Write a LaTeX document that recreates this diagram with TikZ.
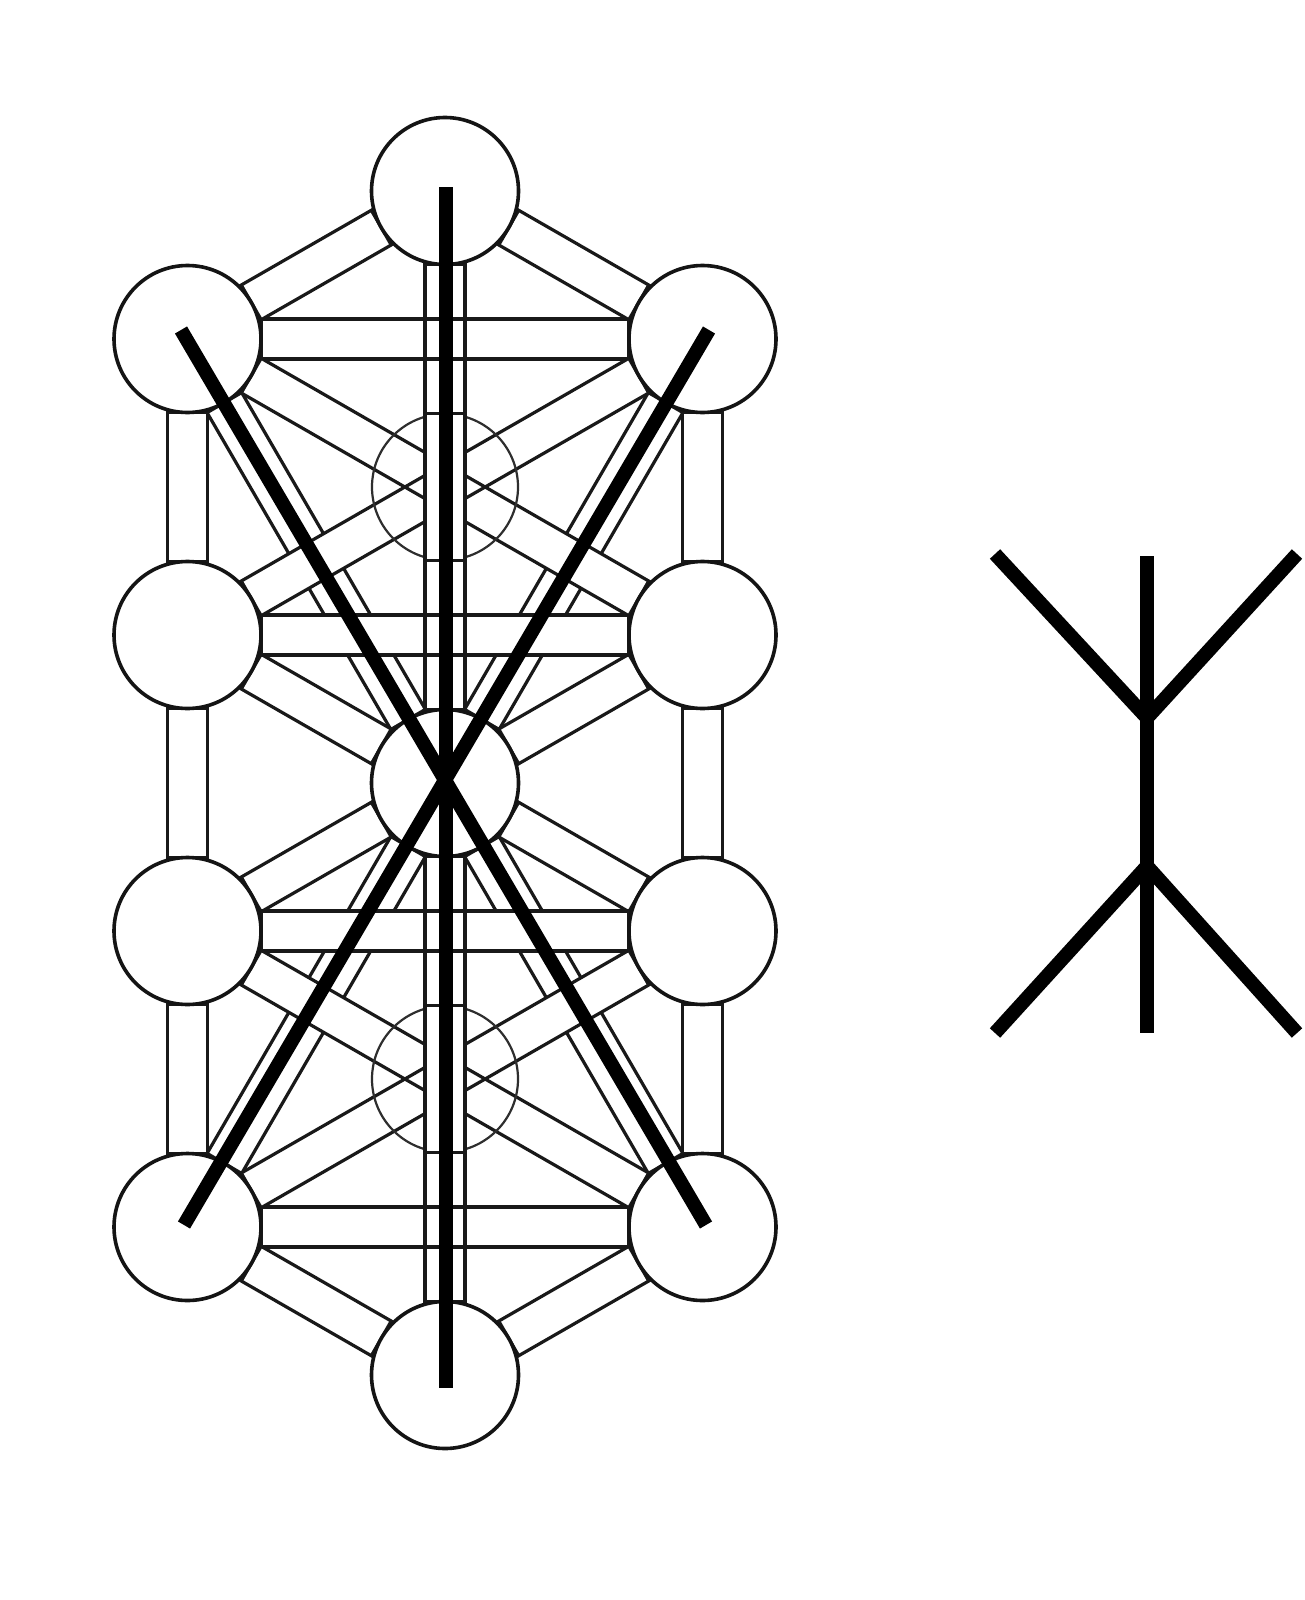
\documentclass[tikz,border=0pt]{standalone}
\usetikzlibrary{calc}
\pgfdeclarelayer{back}
\pgfdeclarelayer{front}
\pgfdeclarelayer{top}
\pgfsetlayers{back,main,front,top}
\newcommand\chR{73.5pt}
\newcommand\chW{20pt}
\newcommand\chan[3]{%
  \path ($(#1.center)!\chR!(#2.center)$) coordinate (cp) ($(#2.center)!\chR!(#1.center)$) coordinate (cq);
  \path[#3] ($(cp)!\chW!90:(#2.center)$) -- ($(cq)!\chW!-90:(#1.center)$) -- ($(cq)!\chW!90:(#1.center)$) -- ($(cp)!\chW!-90:(#2.center)$) -- cycle;}
\begin{document}
\begin{tikzpicture}[x=1pt,y=-1pt,
  sphere/.style={circle, draw=black!92, line width=3.6pt, fill=white, minimum size=147pt, inner sep=0pt},
  hiddensphere/.style={circle, inner sep=0pt, minimum size=146pt},
  chanline/.style={draw=black!90, line width=3.2pt, line join=miter},
  chanfill/.style={fill=white},
  heavy/.style={line width=14pt, black, line cap=butt, line join=miter}]
\begin{pgfonlayer}{back}
\fill[white] (0,0) rectangle (1304,1600);
\end{pgfonlayer}
\useasboundingbox (0,0) rectangle (1304,1600);
% spheres
\begin{pgfonlayer}{front}
\node[sphere] (T)  at (445,191) {};
\node[sphere] (UL) at (187.5,339) {};
\node[sphere] (UR) at (702.5,339) {};
\node[sphere] (ML) at (187.5,635) {};
\node[sphere] (MR) at (702.5,635) {};
\node[sphere] (C)  at (445,783) {};
\node[sphere] (LL) at (187.5,931) {};
\node[sphere] (LR) at (702.5,931) {};
\node[sphere] (BL) at (187.5,1227) {};
\node[sphere] (BR) at (702.5,1227) {};
\node[sphere] (B)  at (445,1375) {};
\end{pgfonlayer}
\node[hiddensphere] (D1) at (445,487) {};
\node[hiddensphere] (D2) at (445,1079) {};
% steep channels (lowest)
\chan{UL}{C}{chanfill,chanline}
\chan{UR}{C}{chanfill,chanline}
\chan{BL}{C}{chanfill,chanline}
\chan{BR}{C}{chanfill,chanline}
% shallow channels into the centre
\chan{ML}{C}{chanfill,chanline}
\chan{MR}{C}{chanfill,chanline}
\chan{LL}{C}{chanfill,chanline}
\chan{LR}{C}{chanfill,chanline}
% horizontals
\chan{UL}{UR}{chanfill,chanline}
\chan{ML}{MR}{chanfill,chanline}
\chan{LL}{LR}{chanfill,chanline}
\chan{BL}{BR}{chanfill,chanline}
% side pillars
\chan{UL}{ML}{chanfill,chanline}
\chan{ML}{LL}{chanfill,chanline}
\chan{LL}{BL}{chanfill,chanline}
\chan{UR}{MR}{chanfill,chanline}
\chan{MR}{LR}{chanfill,chanline}
\chan{LR}{BR}{chanfill,chanline}
% crown and root
\chan{T}{UL}{chanfill,chanline}
\chan{T}{UR}{chanfill,chanline}
\chan{B}{BL}{chanfill,chanline}
\chan{B}{BR}{chanfill,chanline}
% crossing diagonals through the hidden spheres
\chan{UL}{MR}{chanfill}
\chan{UR}{ML}{chanfill}
\chan{UL}{MR}{chanline}
\chan{UR}{ML}{chanline}
\chan{LL}{BR}{chanfill}
\chan{LR}{BL}{chanfill}
\chan{LL}{BR}{chanline}
\chan{LR}{BL}{chanline}
% hidden spheres (thin outline)
\draw[draw=black!82, line width=2.2pt] (D1.center) circle[radius=73pt];
\draw[draw=black!82, line width=2.2pt] (D2.center) circle[radius=73pt];
% middle pillar
\chan{T}{D1}{chanline}
\chan{D1}{C}{chanline}
\chan{C}{D2}{chanline}
\chan{D2}{B}{chanline}
\path[chanfill,chanline] ($(D1.center)+(-20,-73.5)$) rectangle ($(D1.center)+(20,73.5)$);
\path[chanfill,chanline] ($(D2.center)+(-20,-73.5)$) rectangle ($(D2.center)+(20,73.5)$);
% heavy overlay
\begin{pgfonlayer}{top}
\coordinate (va) at (446,187);
\coordinate (vb) at (446,1388);
\coordinate (xa1) at (181,330);
\coordinate (xa2) at (706,1225);
\coordinate (xb1) at (709,330);
\coordinate (xb2) at (184,1225);
\draw[heavy] (va) -- (vb);
\draw[heavy] (xa1) -- (xa2);
\draw[heavy] (xb1) -- (xb2);
% rune
\coordinate (rt) at (1147,556);
\coordinate (rb) at (1147,1033);
\coordinate (rv1) at (995,554);
\coordinate (rvj) at (1147,718);
\coordinate (rv2) at (1297,554);
\coordinate (ra) at (1147,866);
\coordinate (rl1) at (995,1033);
\coordinate (rl2) at (1297,1033);
\draw[heavy] (rt) -- (rb);
\draw[heavy] (rv1) -- (rvj) -- (rv2);
\draw[heavy] (rl1) -- (ra) -- (rl2);
\end{pgfonlayer}
\end{tikzpicture}
\end{document}
